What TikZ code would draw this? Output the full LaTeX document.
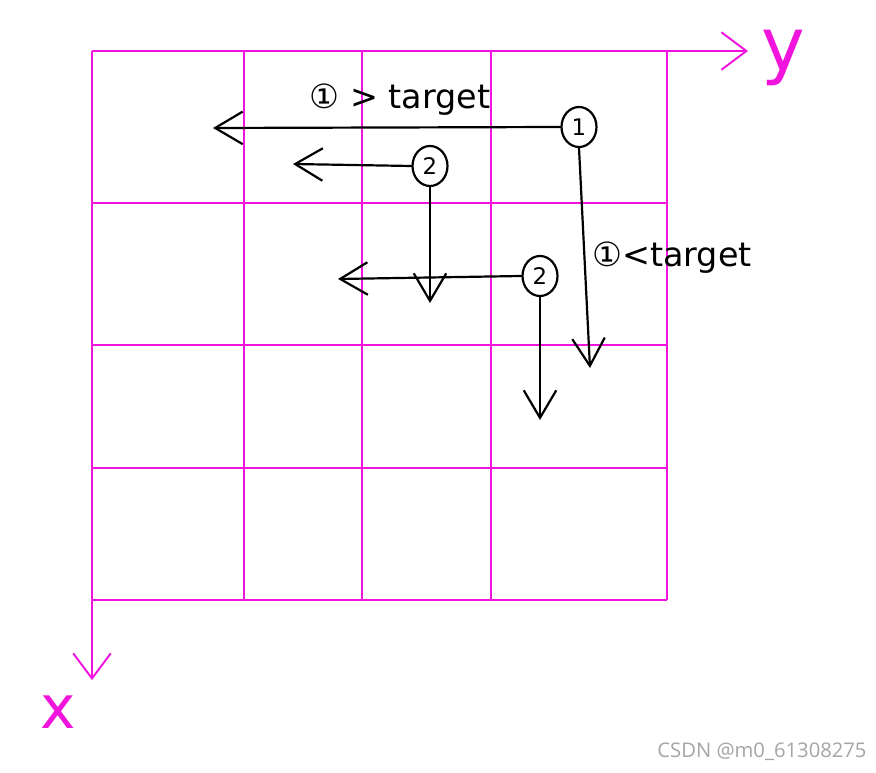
\documentclass[tikz,border=0pt]{standalone}
\usepackage{fontspec}
\setmainfont{DejaVu Sans}
\newfontfamily\wmfont{Open Sans}
\usetikzlibrary{arrows.meta,shapes.geometric}
\definecolor{gridmag}{RGB}{240,20,220}
\definecolor{wmgray}{RGB}{165,165,165}
\tikzset{
  gridline/.style={draw=gridmag, line width=0.85pt},
  axisarrow/.style={gridline, -{Straight Barb[length=0.5cm,width=0.75cm,line width=1.1pt]}},
  pen/.style={draw=black, line width=1.25pt, line cap=round},
  penarrow/.style={pen, -{Straight Barb[length=0.55cm,width=0.65cm,line width=1.25pt]}},
  numcircle/.style={ellipse, draw=black, line width=1.25pt, inner sep=0pt, minimum width=0.7cm, minimum height=0.8cm, font=\fontsize{13}{13}\selectfont},
  hand/.style={font=\fontsize{19}{19}\selectfont, inner sep=0pt},
  axislabel/.style={text=gridmag, inner sep=0pt}
}
\begin{document}
\begin{tikzpicture}[x=0.02cm,y=-0.02cm]
\useasboundingbox[fill=white] (0,0) rectangle (876,773);
% grid
\foreach \gx in {244,362,491,667} \draw[gridline] (\gx,51) -- (\gx,600);
\foreach \gy in {203,345,468,600} \draw[gridline] (92,\gy) -- (667,\gy);
% axes
\coordinate (origin) at (92,51);
\coordinate (yend) at (748,51);
\coordinate (xend) at (92,680);
\draw[axisarrow] (origin) -- (yend);
\draw[axisarrow] (origin) -- (xend);
\node[axislabel, font=\fontsize{42}{42}\selectfont] (ylab) at (783,58) {y};
\node[axislabel, font=\fontsize{34}{34}\selectfont] (xlab) at (58,712) {x};
% circled points
\node[numcircle] (c1) at (579,127) {1};
\node[numcircle] (c2a) at (430,166) {2};
\node[numcircle] (c2b) at (540,276) {2};
% arrow ends
\coordinate (t1) at (213,128);
\coordinate (t2) at (293,164);
\coordinate (t3) at (430,303);
\coordinate (t4) at (590,368);
\coordinate (t5) at (338,279);
\coordinate (t6) at (540,420);
\draw[penarrow] (c1.west) -- (t1);
\draw[penarrow] (c2a.west) -- (t2);
\draw[penarrow] (c2a.south) -- (t3);
\draw[penarrow] (c1.south) -- (t4);
\draw[penarrow] (c2b.west) -- (t5);
\draw[penarrow] (c2b.south) -- (t6);
% labels
\node[hand] (lab1) at (400,100) {① > target};
\node[hand, anchor=west] (lab2) at (592,258) {①<target};
% watermark
\node[text=wmgray, font=\wmfont\fontsize{11.5}{12}\selectfont, inner sep=0pt] (wm) at (762,752) {CSDN @m0\_61308275};
\end{tikzpicture}
\end{document}
